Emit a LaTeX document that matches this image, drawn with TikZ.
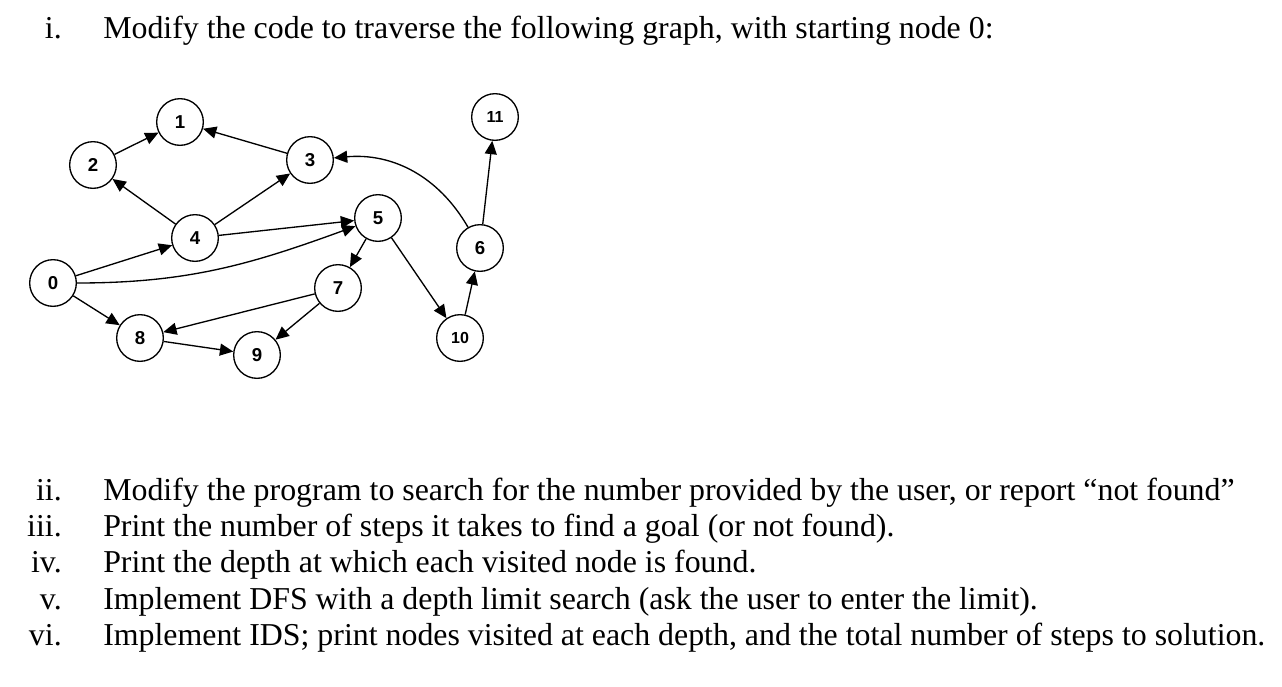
\documentclass[tikz,border=0pt]{standalone}
\usepackage{fontspec}
\setmainfont{Liberation Serif}
\newfontfamily\nodefont{Liberation Sans}
\usetikzlibrary{arrows.meta}
\begin{document}
\begin{tikzpicture}[x=0.75pt,y=-0.75pt,
  vert/.style={circle,draw,line width=1pt,minimum size=35pt,inner sep=0pt,font=\nodefont\bfseries\fontsize{14}{14}\selectfont},
  edge/.style={line width=1pt,-{Triangle[length=10pt,width=9pt]}},
  num/.style={anchor=base east,font=\fontsize{23.9}{28}\selectfont,inner sep=0pt},
  txt/.style={anchor=base west,font=\fontsize{23.9}{28}\selectfont,inner sep=0pt}]
\useasboundingbox (0,0) rectangle (1282,686);
\node[vert] (n0) at (53,283) {0};
\node[vert] (n1) at (180,122) {1};
\node[vert] (n2) at (93,165) {2};
\node[vert] (n3) at (310,160) {3};
\node[vert] (n4) at (195,238) {4};
\node[vert] (n5) at (378,218) {5};
\node[vert] (n6) at (480,248) {6};
\node[vert] (n7) at (338,288) {7};
\node[vert] (n8) at (140,338) {8};
\node[vert] (n9) at (257,355) {9};
\node[vert,font=\nodefont\bfseries\fontsize{12}{12}\selectfont] (n10) at (460,338) {10};
\node[vert,font=\nodefont\bfseries\fontsize{12}{12}\selectfont] (n11) at (495,117) {11};
\draw[edge] (n2) -- (n1);
\draw[edge] (n3) -- (n1);
\draw[edge] (n4) -- (n2);
\draw[edge] (n4) -- (n3);
\draw[edge] (n0) -- (n4);
\draw[edge] (n4) -- (n5);
\draw[edge] (n0.east) to[out=0,in=200] (n5);
\draw[edge] (n5) -- (n7);
\draw[edge] (n5) -- (n10);
\draw[edge] (n10) -- (n6);
\draw[edge] (n6) to[out=120,in=5] (n3);
\draw[edge] (n6) -- (n11);
\draw[edge] (n0) -- (n8);
\draw[edge] (n7) -- (n8);
\draw[edge] (n7) -- (n9);
\draw[edge] (n8) -- (n9);
\node[num] (l1) at (62,38) {i.};
\node[txt] (t1) at (103,38) {Modify the code to traverse the following graph, with starting node 0:};
\node[num] (l2) at (62,500) {ii.};
\node[txt] (t2) at (103,500) {Modify the program to search for the number provided by the user, or report “not found”};
\node[num] (l3) at (62,536) {iii.};
\node[txt] (t3) at (103,536) {Print the number of steps it takes to find a goal (or not found).};
\node[num] (l4) at (62,572) {iv.};
\node[txt] (t4) at (103,572) {Print the depth at which each visited node is found.};
\node[num] (l5) at (62,609) {v.};
\node[txt] (t5) at (103,609) {Implement DFS with a depth limit search (ask the user to enter the limit).};
\node[num] (l6) at (62,645) {vi.};
\node[txt] (t6) at (103,645) {Implement IDS; print nodes visited at each depth, and the total number of steps to solution.};
\end{tikzpicture}
\end{document}
